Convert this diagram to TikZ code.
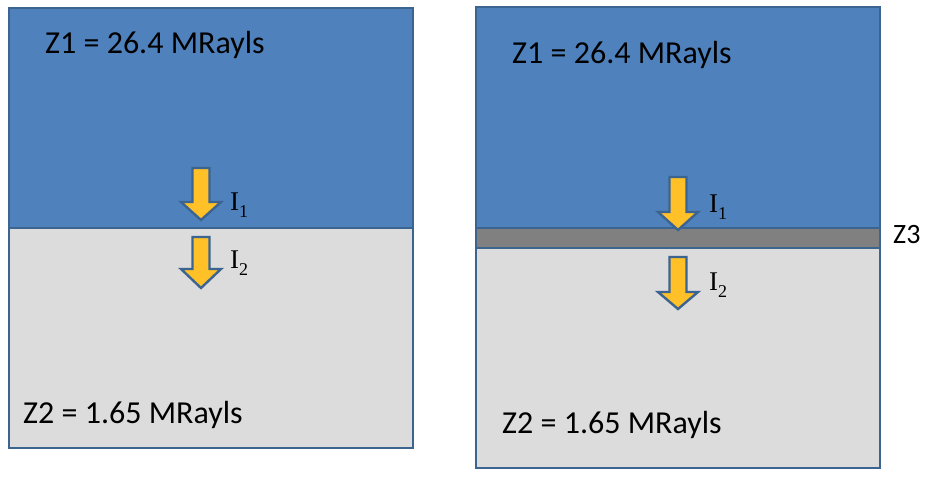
\documentclass[tikz,border=0pt]{standalone}
\usepackage{fontspec}
\newfontfamily\calibri{Carlito}
\newfontfamily\cambria{Liberation Serif}
\usepackage{tikz}
\definecolor{layerblue}{RGB}{79,129,189}
\definecolor{edgeblue}{RGB}{60,100,145}
\definecolor{layergray}{RGB}{220,220,220}
\definecolor{bondgray}{RGB}{128,128,128}
\definecolor{fluxgold}{RGB}{255,192,40}
\tikzset{
  layer/.style={draw=edgeblue, line width=2.5pt},
  flux/.style={draw=edgeblue, line width=2.4pt, fill=fluxgold, line join=miter},
  zlabel/.style={inner sep=0pt, anchor=base west, font=\calibri\fontsize{32}{38}\selectfont},
  ilabel/.style={inner sep=0pt, anchor=base west, font=\cambria\fontsize{27}{30}\selectfont}
}

\begin{document}
\begin{tikzpicture}[x=1pt,y=-1pt]
\useasboundingbox (0,0) rectangle (934,482);
\draw [layer, fill=layerblue] (9,8) rectangle (413,228);
\draw [layer, fill=layergray] (9,228) rectangle (413,448);
\draw [flux] (192.5,168) -- (209.5,168) -- (209.5,202) -- (221,202) -- (201,220) -- (181,202) -- (192.5,202) -- cycle;
\draw [flux] (192.5,237) -- (209.5,237) -- (209.5,269) -- (221,269) -- (201,288) -- (181,269) -- (192.5,269) -- cycle;
\node [zlabel] (z1a) at (45,53) {Z1 = 26.4 MRayls};
\node [zlabel] (z2a) at (23,423) {Z2 = 1.65 MRayls};
\node [ilabel] (i1a) at (230,210) {I\raisebox{-0.26em}{\fontsize{18}{20}\selectfont 1}};
\node [ilabel] (i2a) at (230,268) {I\raisebox{-0.26em}{\fontsize{18}{20}\selectfont 2}};
\draw [layer, fill=layerblue] (476,7) rectangle (880,228);
\draw [layer, fill=bondgray] (476,228) rectangle (880,248);
\draw [layer, fill=layergray] (476,248) rectangle (880,468);
\draw [flux] (669.5,177) -- (686.5,177) -- (686.5,212) -- (698,212) -- (678,230) -- (658,212) -- (669.5,212) -- cycle;
\draw [flux] (669.5,257) -- (686.5,257) -- (686.5,292) -- (698,292) -- (678,309) -- (658,292) -- (669.5,292) -- cycle;
\node [zlabel] (z1b) at (512,63) {Z1 = 26.4 MRayls};
\node [zlabel] (z2b) at (502,433) {Z2 = 1.65 MRayls};
\node [zlabel, font=\calibri\fontsize{28}{34}\selectfont] (z3b) at (893,243) {Z3};
\node [ilabel] (i1b) at (709,212) {I\raisebox{-0.26em}{\fontsize{18}{20}\selectfont 1}};
\node [ilabel] (i2b) at (709,290) {I\raisebox{-0.26em}{\fontsize{18}{20}\selectfont 2}};
\end{tikzpicture}
\end{document}
